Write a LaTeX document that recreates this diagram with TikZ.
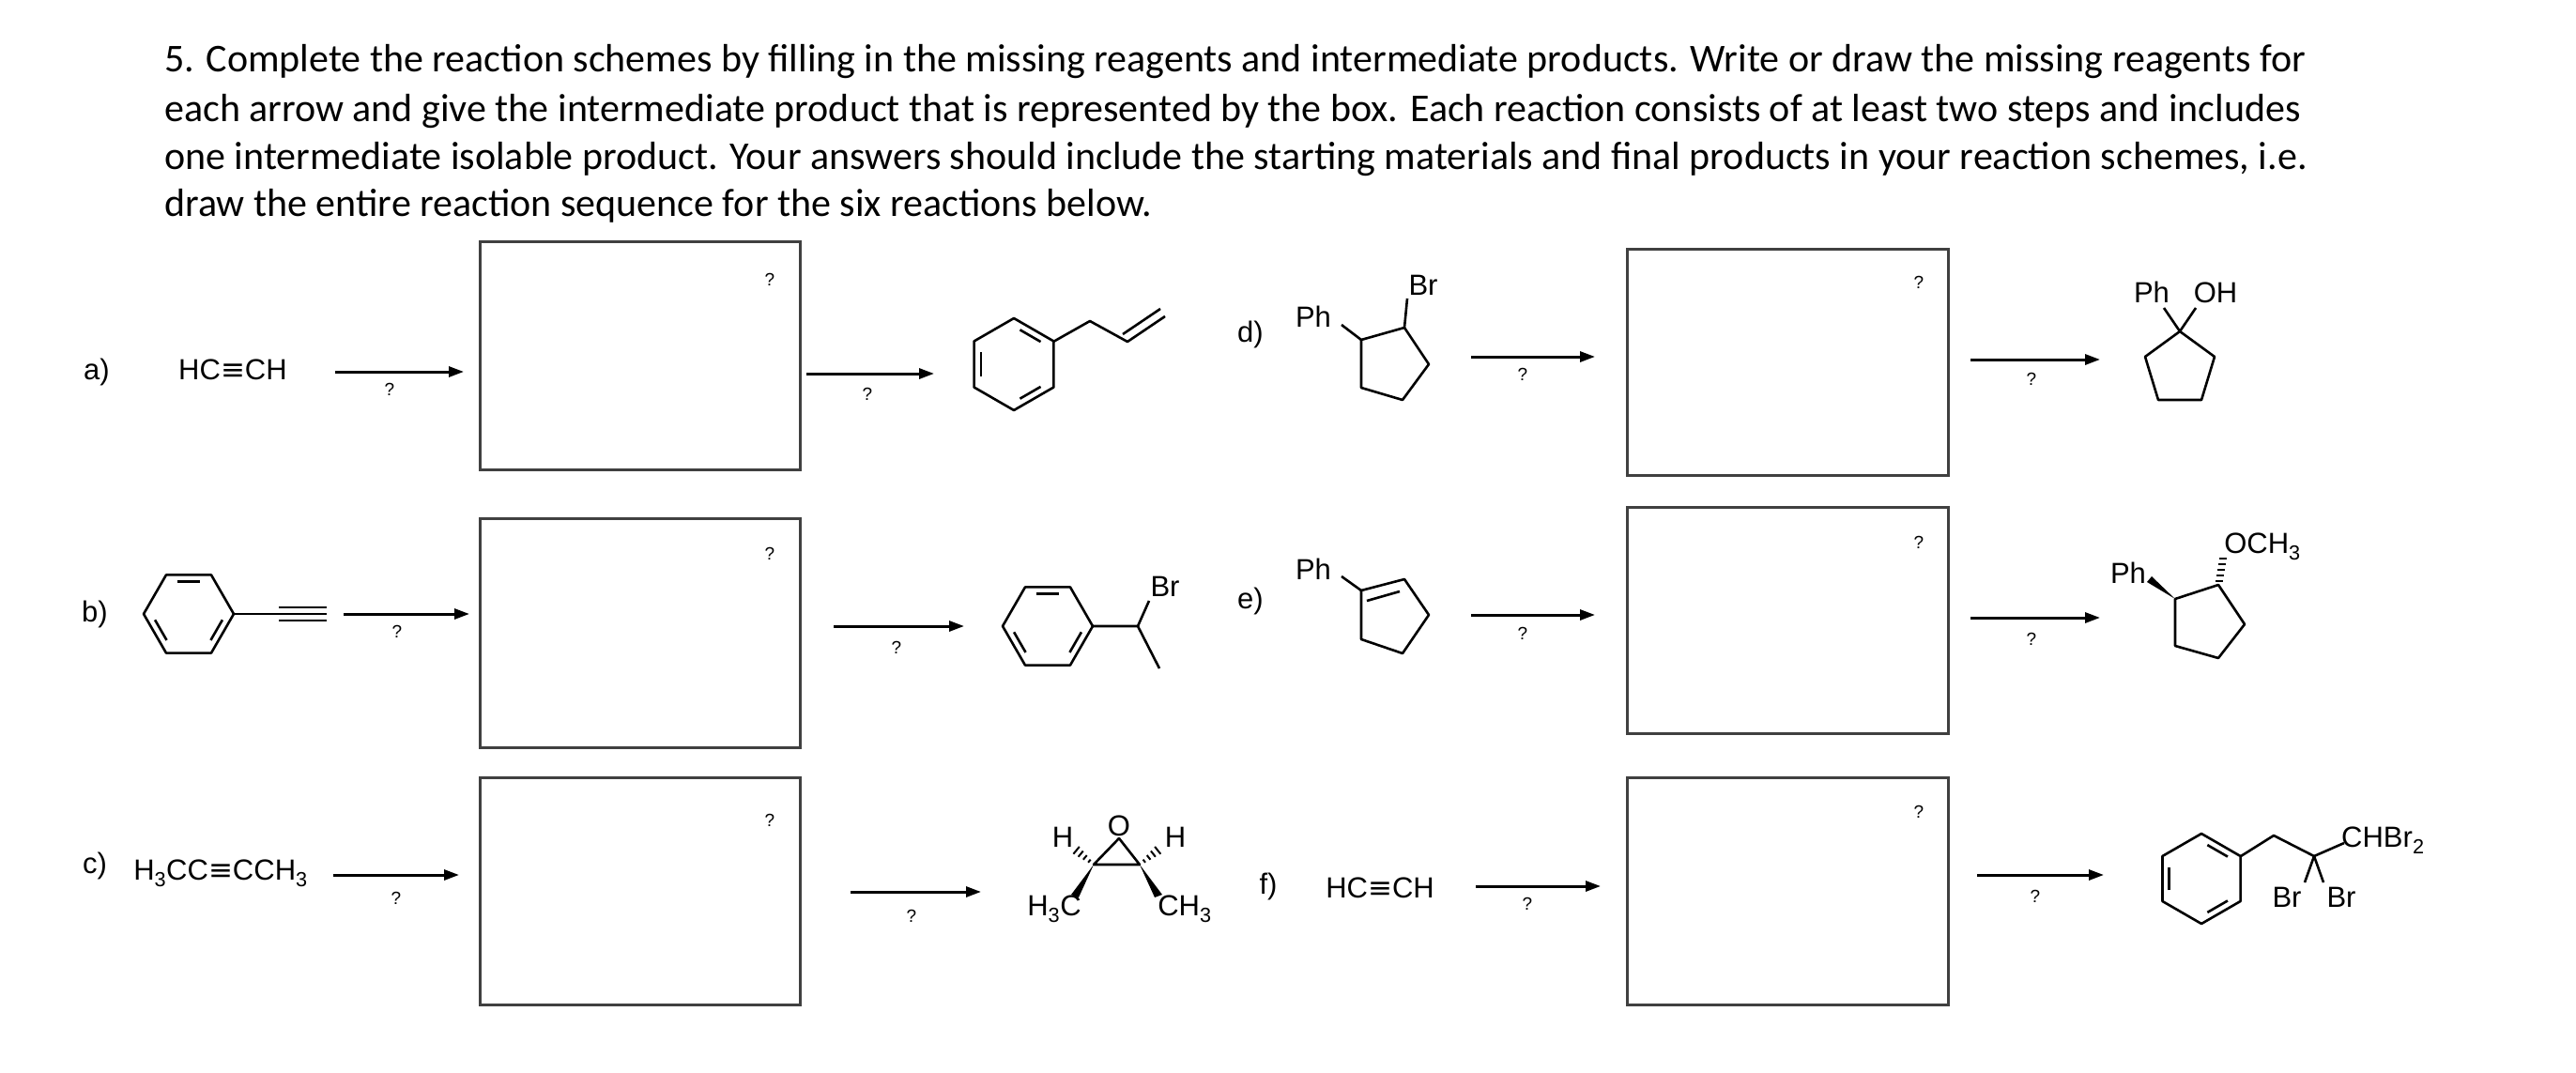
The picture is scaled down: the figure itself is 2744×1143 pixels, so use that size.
\documentclass[tikz,border=0pt]{standalone}
\usepackage{fontspec}
\setmainfont{Carlito}
\newfontfamily\chem{Liberation Sans}
\newfontfamily\djvfont{DejaVu Sans}
\usetikzlibrary{calc,arrows.meta}
\newcommand\tb{{\djvfont ≡}}
\newcommand\benzring[4]{%
  \draw[bond] ($(#1,#2)+(#4:#3)$) \foreach \i in {1,...,5}{ -- ($(#1,#2)+(#4+60*\i:#3)$)} -- cycle;
  \foreach \i in {0,2,4}{\draw[bond] ($(#1,#2)+(#4+60*\i+10:0.76*#3)$) -- ($(#1,#2)+(#4+60*\i+50:0.76*#3)$);}}
\begin{document}
\begin{tikzpicture}[x=1pt,y=-1pt,
  bond/.style={line width=2.6pt,line join=round},
  rx/.style={line width=3pt,-{Triangle[length=16pt,width=11pt]}},
  q/.style={font=\chem\fontsize{19}{19}\selectfont},
  lab/.style={font=\chem\fontsize{31}{31}\selectfont,inner sep=0pt},
  box/.style={draw=black!75,line width=3pt},
  ttl/.style={anchor=west,inner sep=0pt,font=\fontsize{42}{42}\selectfont}]
\useasboundingbox[fill=white] (0,0) rectangle (2744,1143);
% title
\node[ttl] (t1) at (175,66) {5. Complete the reaction schemes by filling in the missing reagents and intermediate products. Write or draw the missing reagents for};
\node[ttl] (t2) at (175,119) {each arrow and give the intermediate product that is represented by the box. Each reaction consists of at least two steps and includes};
\node[ttl] (t3) at (175,170) {one intermediate isolable product. Your answers should include the starting materials and final products in your reaction schemes, i.e.};
\node[ttl] (t4) at (175,219) {draw the entire reaction sequence for the six reactions below.};
% boxes
\draw[box] (511,257) rectangle (852,500);
\draw[box] (511,552) rectangle (852,796);
\draw[box] (511,828) rectangle (852,1070);
\draw[box] (1733,265) rectangle (2075,506);
\draw[box] (1733,540) rectangle (2075,781);
\draw[box] (1733,828) rectangle (2075,1070);
\foreach \x/\y in {820/298,820/590,820/874,2044/301,2044/578,2044/865} \node[q] at (\x,\y) {?};
% arrows
\foreach \a/\b/\y/\qx/\qy in {357/494/396/415/415, 859/995/398/924/420, 366/500/654/423/673, 888/1027/667/955/690, 355/489/932/422/957, 906/1045/950/971/976, 1567/1699/380/1622/399, 2099/2237/383/2164/404, 1567/1699/655/1622/675, 2099/2237/658/2164/681, 1572/1705/944/1627/963, 2106/2241/932/2168/955}{
  \coordinate (s) at (\a,\y); \coordinate (e) at (\b,\y);
  \draw[rx] (s) -- (e); \node[q] at (\qx,\qy) {?};}
% labels
\node[lab] (la) at (103,396) {a)};
\node[lab] (lb) at (101,654) {b)};
\node[lab] (lc) at (101,922) {c)};
\node[lab] (ld) at (1332,356) {d)};
\node[lab] (le) at (1332,640) {e)};
\node[lab] (lf) at (1351,944) {f)};
% a
\node[lab] (sa) at (248,394) {HC\tb CH};
\benzring{1080}{388}{49}{30}
\draw[bond] (1122,364) -- (1161,342) -- (1201,364) -- (1241,337);
\draw[bond] (1196,356) -- (1236,329);
% b
\benzring{201}{654}{48}{0}
\draw[bond] (249,654) -- (297,654);
\foreach \d in {-7,0,7} \draw[bond] (297,654+\d) -- (348,654+\d);
\benzring{1116}{667}{48}{0}
\draw[bond] (1164,667) -- (1212,667) -- (1235,712);
\draw[bond] (1212,667) -- (1224,640);
\node[lab] at (1241,625) {Br};
% c
\node[lab] (sc) at (235,930) {H\textsubscript{3}CC\tb CCH\textsubscript{3}};
\draw[bond] (1165,921) -- (1214,921) -- (1192,893) -- cycle;
\node[lab,fill=white,inner sep=1pt] at (1192,880) {O};
\node[lab] at (1132,892) {H};
\node[lab] at (1252,892) {H};
\foreach \t/\w in {0.2/2,0.4/3,0.6/4,0.8/5}{\draw[line width=2pt] ($(1165,921)!\t!(1142,902)+(0.64*\w,-0.77*\w)$) -- ($(1165,921)!\t!(1142,902)-(0.64*\w,-0.77*\w)$);
  \draw[line width=2pt] ($(1214,921)!\t!(1238,902)+(0.62*\w,0.78*\w)$) -- ($(1214,921)!\t!(1238,902)-(0.62*\w,0.78*\w)$);}
\fill (1165,921) -- (1141,953) -- (1149,956) -- cycle;
\fill (1214,921) -- (1238,953) -- (1230,956) -- cycle;
\node[lab] at (1123,968) {H\textsubscript{3}C};
\node[lab] at (1262,968) {CH\textsubscript{3}};
% d
\draw[bond] (1450,362) -- (1496,349) -- (1522,388) -- (1494,426) -- (1450,413) -- cycle;
\draw[bond] (1450,362) -- (1429,346);
\node[lab] at (1399,337) {Ph};
\draw[bond] (1496,349) -- (1499,318);
\node[lab] at (1516,304) {Br};
\draw[bond] (2322,353) -- (2359,380) -- (2345,426) -- (2299,426) -- (2285,380) -- cycle;
\draw[bond] (2322,353) -- (2305,328);
\draw[bond] (2322,353) -- (2339,328);
\node[lab] at (2292,311) {Ph};
\node[lab] at (2360,312) {OH};
% e
\draw[bond] (1450,629) -- (1496,617) -- (1522,655) -- (1494,696) -- (1450,681) -- cycle;
\draw[bond] (1456,640) -- (1491,630);
\draw[bond] (1450,629) -- (1429,614);
\node[lab] at (1399,606) {Ph};
\draw[bond] (2317,638) -- (2363,623) -- (2391,665) -- (2363,701) -- (2317,688) -- cycle;
\fill (2317,638) -- (2287,620) -- (2292,614) -- cycle;
\node[lab] at (2267,610) {Ph};
\foreach \t in {0.15,0.35,0.55,0.75,0.95}{\draw[line width=2pt] ($(2363,623)!\t!(2368,594)+(-4,0)$) -- ($(2363,623)!\t!(2368,594)+(4,0)$);}
\node[lab] at (2410,582) {OCH\textsubscript{3}};
% f
\node[lab] (sf) at (1470,946) {HC\tb CH};
\benzring{2345}{936}{48}{30}
\draw[bond] (2387,912) -- (2422,890) -- (2465,912) -- (2497,898);
\draw[bond] (2465,912) -- (2455,940);
\draw[bond] (2465,912) -- (2475,940);
\node[lab,anchor=west] at (2494,895) {CHBr\textsubscript{2}};
\node[lab] at (2436,956) {Br};
\node[lab] at (2494,956) {Br};
\end{tikzpicture}
\end{document}
